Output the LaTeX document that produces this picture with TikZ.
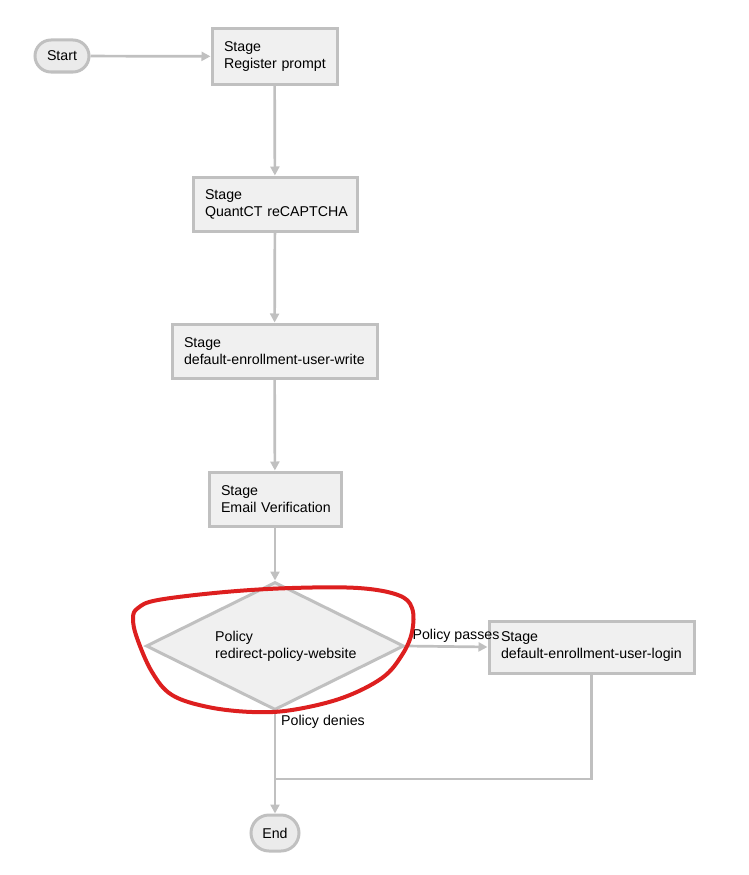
\documentclass[tikz,border=0pt]{standalone}
\usepackage{fontspec}
\setmainfont{Liberation Sans}
\usetikzlibrary{shapes.geometric,shapes.misc,arrows.meta}
\definecolor{lgray}{HTML}{C0C0C0}
\definecolor{boxfill}{HTML}{F0F0F0}
\definecolor{termfill}{HTML}{EBEBEB}
\definecolor{penred}{HTML}{DD1F1F}
\newcommand{\twolines}[2]{\mbox{#1}\\\mbox{#2}}
\tikzset{
  stagebox/.style={draw=lgray, fill=boxfill, line width=3pt, rectangle,
    inner sep=0pt, align=left, font=\fontsize{14.2}{17}\selectfont},
  termbox/.style={draw=lgray, fill=termfill, line width=3pt, rounded rectangle,
    inner sep=0pt, font=\fontsize{14.2}{17}\selectfont},
  conn/.style={draw=lgray, line width=2.7pt, -{Triangle[length=9pt,width=9pt]}},
  plainconn/.style={draw=lgray, line width=2.7pt},
  lbl/.style={font=\fontsize{14.2}{17}\selectfont, inner sep=0pt},
}
\begin{document}
\begin{tikzpicture}[x=1pt,y=-1pt]
\useasboundingbox (0,0) rectangle (748,875);
% terminals
\node[termbox, minimum width=54pt, minimum height=32pt] (start) at (62,56) {Start};
\node[termbox, minimum width=48pt, minimum height=36pt] (end) at (275,833) {End};
% stages
\node[stagebox, minimum width=125pt, minimum height=55pt, text width=101pt] (reg) at (274.5,56.5) {\twolines{Stage}{Register prompt}};
\node[stagebox, minimum width=164pt, minimum height=54pt, text width=140pt] (cap) at (275,204) {\twolines{Stage}{QuantCT reCAPTCHA}};
\node[stagebox, minimum width=205pt, minimum height=54pt, text width=181pt] (write) at (274.5,351) {\twolines{Stage}{default-enrollment-user-write}};
\node[stagebox, minimum width=132pt, minimum height=54pt, text width=108pt] (email) at (275,499) {\twolines{Stage}{Email Verification}};
\node[stagebox, minimum width=205pt, minimum height=52pt, text width=181pt] (login) at (591.5,647) {\twolines{Stage}{default-enrollment-user-login}};
% policy diamond
\node[diamond, draw=lgray, fill=boxfill, line width=3pt, inner sep=0pt,
      minimum width=258pt, minimum height=128pt] (pol) at (275,646) {};
\node[lbl, align=left, anchor=west] (poltext) at (215,646.5) {Policy\\redirect-policy-website};
% connectors
\draw[conn] (start) -- (reg);
\draw[conn] (reg) -- (cap);
\draw[conn] (cap) -- (write);
\draw[conn] (write) -- (email);
\draw[conn] (email) -- (pol.north);
\draw[conn] (pol.east) -- node[lbl, pos=0.07, anchor=south west, yshift=2pt] (passlbl) {Policy passes} (login.west);
\coordinate (join) at (275,779);
\draw[conn] (pol.south) -- (end.north);
\node[lbl, anchor=north west] (denylbl) at (281,715) {Policy denies};
\draw[plainconn] (login.south) |- (join);
% red hand-drawn loop
\draw[penred, line width=4pt, line join=round] plot[smooth cycle, tension=0.6] coordinates {
 (138,608) (158,600) (225,592) (292,588) (358,588) (398,595) (412,608) (412,632)
 (402,655) (382,678) (342,698) (292,710) (252,712) (208,707) (172,695) (152,672)
 (137,638) (133,618)};
\end{tikzpicture}
\end{document}
